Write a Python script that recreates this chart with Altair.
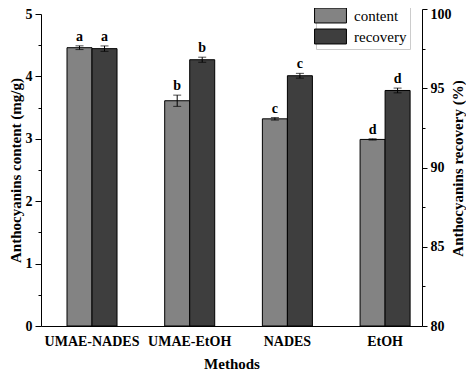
import altair as alt
import pandas as pd

methods = ["UMAE-NADES", "UMAE-EtOH", "NADES", "EtOH"]
series = ["content", "recovery"]
content = [4.46, 3.61, 3.32, 2.99]
content_err = [0.03, 0.09, 0.02, 0.01]
content_letters = ["a", "b", "c", "d"]
recovery = [97.50, 96.80, 95.79, 94.86]
recovery_err = [0.17, 0.16, 0.15, 0.15]
recovery_letters = ["a", "b", "c", "d"]
colors = ["#838383", "#3e3e3e"]

rows = []
for i, m in enumerate(methods):
    rows.append(dict(method=m, series="content", value=content[i],
                     lo=content[i] - content_err[i], hi=content[i] + content_err[i],
                     letter=content_letters[i]))
    rows.append(dict(method=m, series="recovery", value=recovery[i],
                     lo=recovery[i] - recovery_err[i], hi=recovery[i] + recovery_err[i],
                     letter=recovery_letters[i]))
df = pd.DataFrame(rows)

FONT = "Liberation Serif"

x_enc = alt.X("method:N", sort=methods,
              scale=alt.Scale(paddingInner=0.488, paddingOuter=0.194, align=0.686),
              axis=alt.Axis(title="Methods", labelAngle=0, ticks=False,
                            labelFont=FONT, labelFontWeight="bold", labelFontSize=14,
                            labelColor="black", labelPadding=8,
                            titleFont=FONT, titleFontWeight="bold", titleFontSize=15,
                            titleColor="black", titlePadding=8,
                            domainColor="black"))
xo_enc = alt.XOffset("series:N", sort=series,
                     scale=alt.Scale(domain=series, paddingInner=0, paddingOuter=0))

base = alt.Chart(df).encode(x=x_enc, xOffset=xo_enc)

left_title = "Anthocyanins content (mg/g)"
right_title = "Anthocyanins recovery (%)"

left_axis = alt.Axis(values=[0, 0.5, 1, 1.5, 2, 2.5, 3, 3.5, 4, 4.5, 5],
                     labelExpr="datum.value % 1 === 0 ? format(datum.value, 'd') : ''",
                     tickSize={"condition": {"test": "datum.value % 1 === 0", "value": 6}, "value": 3},
                     tickColor="black", domainColor="black", grid=False,
                     labelFont=FONT, labelFontWeight="bold", labelFontSize=14,
                     labelColor="black", labelPadding=3,
                     titleFont=FONT, titleFontWeight="bold", titleFontSize=15,
                     titleColor="black", titlePadding=2)
right_axis = alt.Axis(orient="right",
                      values=[80, 82.5, 85, 87.5, 90, 92.5, 95, 97.5, 100],
                      labelExpr="datum.value % 5 === 0 ? format(datum.value, 'd') : ''",
                      labelOffset={"condition": {"test": "datum.value === 100", "value": 5}, "value": 0},
                      tickSize={"condition": {"test": "datum.value % 5 === 0", "value": 5}, "value": 3},
                      tickColor="black", domainColor="black", grid=False,
                      labelFont=FONT, labelFontWeight="bold", labelFontSize=14,
                      labelColor="black", labelPadding=3,
                      titleFont=FONT, titleFontWeight="bold", titleFontSize=15,
                      titleColor="black", titleAngle=270, titleAlign="center",
                      titleBaseline="bottom", titleX=43, titleY=154)

lscale = alt.Scale(domain=[0, 5], nice=False, zero=True)
rscale = alt.Scale(domain=[80, 100], nice=False, zero=False, range=[312, -5])

color_enc = alt.Color("series:N", sort=series,
                      scale=alt.Scale(domain=series, range=colors),
                      legend=alt.Legend(title=None, orient="none", legendX=275, legendY=-13,
                                        symbolType="M-1.45,-0.68H1.45V0.68H-1.45Z", symbolSize=484,
                                        symbolStrokeColor="black", symbolStrokeWidth=1,
                                        symbolOpacity=1,
                                        labelFont=FONT, labelFontSize=15, labelColor="black",
                                        labelOffset=12, rowPadding=0, padding=3,
                                        strokeColor="#cccccc"))


def make_layer(name, scale, axis, title):
    b = base.transform_filter(f"datum.series == '{name}'")
    y = lambda f: alt.Y(f"{f}:Q", scale=scale, axis=axis, title=title)
    bar = b.mark_bar(stroke="black", strokeWidth=1, opacity=1).encode(
        y=y("value"), y2=alt.Y2(datum=scale.domain[0]), color=color_enc)
    rule = b.mark_rule(color="black", strokeWidth=1).encode(y=y("lo"), y2="hi:Q")
    cap_lo = b.mark_tick(color="black", size=8, thickness=1).encode(y=y("lo"))
    cap_hi = b.mark_tick(color="black", size=8, thickness=1).encode(y=y("hi"))
    txt = b.mark_text(font=FONT, fontWeight="bold", fontSize=14, color="black",
                      baseline="bottom", dy=-2).encode(y=y("hi"), text="letter:N")
    return alt.layer(bar, rule, cap_lo, cap_hi, txt)


content_layer = make_layer("content", lscale, left_axis, left_title)
recovery_layer = make_layer("recovery", rscale, right_axis, right_title)

chart = alt.layer(content_layer, recovery_layer).resolve_scale(y="independent").properties(
    width=381, height=312,
    padding={"left": 33, "top": 6, "right": 44, "bottom": 48},
    autosize=alt.AutoSizeParams(type="none"),
).configure_view(stroke=None)

chart.save("out.html", embed_options={"renderer": "svg", "actions": False})
